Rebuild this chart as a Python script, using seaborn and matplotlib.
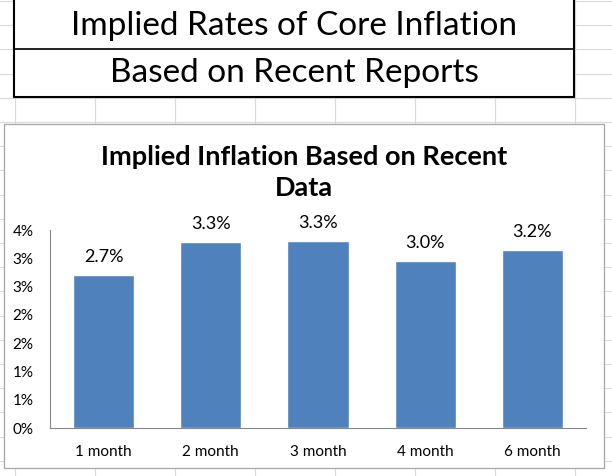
import matplotlib
matplotlib.use("Agg")
import matplotlib.pyplot as plt
import seaborn as sns
from matplotlib.patches import Rectangle

# values
periods = ["1 month", "2 month", "3 month", "4 month", "6 month"]
implied = [0.0270, 0.0329, 0.0330, 0.0295, 0.0315]
bar_labels = ["2.7%", "3.3%", "3.3%", "3.0%", "3.2%"]
y_ticks = [0.0, 0.005, 0.010, 0.015, 0.020, 0.025, 0.030, 0.035]
y_tick_labels = ["0%", "1%", "1%", "2%", "2%", "3%", "3%", "4%"]
header = ["Implied Rates of Core Inflation", "Based on Recent Reports"]
chart_title = ["Implied Inflation Based on Recent", "Data"]

sns.set_style("white")
plt.rcParams['font.family'] = ['Lato', 'DejaVu Sans']
plt.rcParams['text.color'] = 'black'
plt.rcParams['xtick.labelcolor'] = 'black'
plt.rcParams['ytick.labelcolor'] = 'black'

W, H = 612, 476
fig = plt.figure(figsize=(W / 100, H / 100), dpi=100)
fig.patch.set_facecolor("white")

# spreadsheet background (pixel coords)
bg = fig.add_axes([0, 0, 1, 1])
bg.set_xlim(0, W)
bg.set_ylim(H, 0)
bg.axis("off")
grid_c = "#d9d9d9"
for gx in range(15, W, 80):
    bg.axvline(gx, color=grid_c, lw=0.8, zorder=0)
gy = 1.0
while gy < H:
    bg.axhline(gy, color=grid_c, lw=0.8, zorder=0)
    gy += 24.2

# header cells
bg.add_patch(Rectangle((14, -5), 560, 102, facecolor="white", edgecolor="black", lw=1.5, zorder=2))
bg.plot([14, 574], [49, 49], color="black", lw=1.2, zorder=3)
bg.text(294, 26, header[0], ha="center", va="center", fontsize=24, zorder=4)
bg.text(294, 73, header[1], ha="center", va="center", fontsize=24, zorder=4)

# chart frame
bg.add_patch(Rectangle((4, 124), 600, 344, facecolor="white", edgecolor="#a6a6a6", lw=0.9, zorder=2))
bg.text(304, 157, chart_title[0], ha="center", va="center", fontsize=19.5, fontweight="bold", zorder=4)
bg.text(304, 188, chart_title[1], ha="center", va="center", fontsize=19.5, fontweight="bold", zorder=4)

ax = fig.add_axes([50 / W, 1 - 428 / H, (586 - 50) / W, (428 - 230) / H])
ax.patch.set_alpha(0)
sns.barplot(x=periods, y=implied, color="#4F81BD", saturation=1, width=0.57,
            errorbar=None, ax=ax)
ax.set_xlim(-0.5, len(periods) - 0.5)
ax.set_ylim(0, 0.035)
ax.set_yticks(y_ticks)
ax.set_yticklabels(y_tick_labels)
ax.set_xticks([i - 0.5 for i in range(len(periods) + 1)], minor=True)
ax.tick_params(axis="x", which="major", length=0, pad=12, labelsize=11)
ax.tick_params(axis="x", which="minor", length=5, color="#868686", width=0.8, direction="out")
ax.tick_params(axis="y", length=5, color="#868686", width=0.8, direction="out", pad=7, labelsize=11)
ax.set_xlabel("")
ax.set_ylabel("")
for s in ["top", "right"]:
    ax.spines[s].set_visible(False)
for s in ["left", "bottom"]:
    ax.spines[s].set_color("#868686")
    ax.spines[s].set_linewidth(0.8)

for i, (v, lab) in enumerate(zip(implied, bar_labels)):
    ax.annotate(lab, (i, v), xytext=(0, 13), textcoords="offset points",
                ha="center", va="center", fontsize=13)

fig.savefig("out.png", dpi=100)
